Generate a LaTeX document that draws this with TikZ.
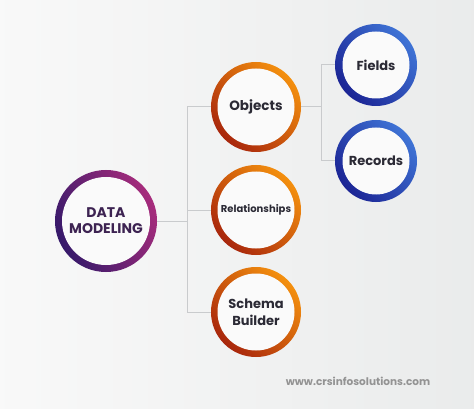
\documentclass[tikz,border=0pt]{standalone}
\usepackage{fontspec}
\setmainfont{Poppins}
\definecolor{dmdark}{HTML}{35196A}
\definecolor{dmlight}{HTML}{A82C7C}
\definecolor{ordark}{HTML}{A8260C}
\definecolor{orlight}{HTML}{F4900E}
\definecolor{bldark}{HTML}{1B2494}
\definecolor{bllight}{HTML}{3F74D6}
\definecolor{txtdark}{HTML}{2B2A35}
\definecolor{txtdm}{HTML}{3D2352}
\definecolor{linegray}{HTML}{C9CBCD}
\tikzset{
  ringdm/.style={circle, inner sep=0pt, minimum size=102pt,
    bottom color=dmdark, top color=dmlight, shading angle=-65},
  ringor/.style={circle, inner sep=0pt, minimum size=90pt,
    bottom color=ordark, top color=orlight, shading angle=-45},
  ringbl/.style={circle, inner sep=0pt, minimum size=82pt,
    bottom color=bldark, top color=bllight, shading angle=-50},
  face/.style={circle, inner sep=0pt, fill=white!96!gray, align=center,
    text=txtdark, font=\bfseries},
  link/.style={draw=linegray, line width=1pt}
}
\begin{document}
\begin{tikzpicture}[x=1pt, y={(0pt,-1pt)}]
    % background
    \shade[left color=white!95!gray, right color=cyan!4!gray!16] (0,0) rectangle (474,409);
    \useasboundingbox (0,0) rectangle (474,409);
    % circles
    \node[ringdm] (dm) at (106,221) {};
    \node[face, minimum size=88pt, text=txtdm, font=\bfseries\fontsize{14}{16}\selectfont] at (dm) {DATA\\MODELING};
    \node[ringor] (obj) at (256,107) {};
    \node[face, minimum size=77pt, font=\bfseries\fontsize{13.5}{15}\selectfont] at (obj) {Objects};
    \node[ringor] (rel) at (256,210) {};
    \node[face, minimum size=77pt, font=\bfseries\fontsize{10}{12}\selectfont] at (rel) {Relationships};
    \node[ringor] (sch) at (256,312) {};
    \node[face, minimum size=77pt, font=\bfseries\fontsize{13}{17}\selectfont] at (sch) {Schema\\Builder};
    \node[ringbl] (fld) at (376,65) {};
    \node[face, minimum size=67pt, font=\bfseries\fontsize{13}{15}\selectfont] at (fld) {Fields};
    \node[ringbl] (rec) at (376,161) {};
    \node[face, minimum size=67pt, font=\bfseries\fontsize{13}{15}\selectfont] at (rec) {Records};
    % connectors
    \coordinate (spine) at (187,0);
    \coordinate (spinetwo) at (321,0);
    \draw[link] (dm.east) -- (spine |- dm.east);
    \draw[link] (spine |- obj) -- (spine |- sch);
    \draw[link] (spine |- obj) -- (obj.west);
    \draw[link] (spine |- rel) -- (rel.west);
    \draw[link] (spine |- sch) -- (sch.west);
    \draw[link] (obj.east) -- (spinetwo |- obj);
    \draw[link] (spinetwo |- fld) -- (spinetwo |- rec);
    \draw[link] (spinetwo |- fld) -- (fld.west);
    \draw[link] (spinetwo |- rec) -- (rec.west);
    % footer
    \node[text=gray!85, font=\bfseries\fontsize{10.5}{12}\selectfont] (url) at (358,381) {www.crsinfosolutions.com};
\end{tikzpicture}
\end{document}
